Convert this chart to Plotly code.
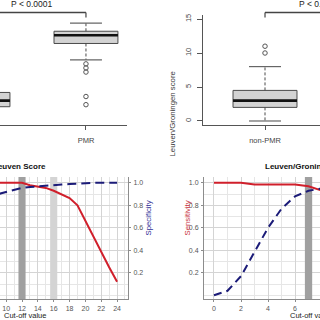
import plotly.graph_objects as go

# ---------------- data ----------------
groups = ["non-PMR", "PMR"]
group_pos = [1, 2]

# Leuven score box plot (top-left)
leuven_q1 = [3.5, 19]
leuven_median = [5, 21]
leuven_q3 = [7, 22]
leuven_whisker_low = [0, 15]
leuven_whisker_high = [12, 24]
leuven_outliers = [[], [14, 13, 12, 6, 4]]

# Leuven/Groningen score box plot (top-right)
lg_q1 = [2, 7]
lg_median = [3, 9]
lg_q3 = [4.5, 10]
lg_whisker_low = [0, 5]
lg_whisker_high = [8, 13]
lg_outliers = [[10, 11], []]

p_value_label = "P < 0.0001"

# Leuven score cut-off curves (bottom-left)
leuven_cutoff = [9, 10, 11, 12, 13, 14, 15, 16, 17, 18, 19, 20, 21, 22, 23, 24]
leuven_sensitivity = [1.0, 1.0, 1.0, 1.0, 0.978, 0.965, 0.955, 0.93, 0.90, 0.865, 0.80,
                      0.66, 0.52, 0.38, 0.25, 0.12]
leuven_specificity = [0.90, 0.92, 0.94, 0.955, 0.963, 0.97, 0.975, 0.98, 0.985, 0.99, 0.995,
                      1.0, 1.0, 1.0, 1.0, 1.0]
leuven_marked_cutoffs = [12, 16]

# Leuven/Groningen cut-off curves (bottom-right)
lg_cutoff = [0, 1, 2, 3, 4, 5, 6, 7, 8]
lg_sensitivity = [1.0, 1.0, 1.0, 0.985, 0.985, 0.985, 0.985, 0.97, 0.93]
lg_specificity = [0.0, 0.04, 0.17, 0.39, 0.60, 0.77, 0.88, 0.93, 0.95]
lg_marked_cutoff = 7

# ---------------- helpers ----------------
W = H = 320
FONT = "Liberation Sans, Arial, sans-serif"
Y_RANGE_BOTTOM = [-0.033, 1.052]


def fx(p):
    return p / W


def fy(p):
    return 1 - p / H


fig = go.Figure()

BOX_HALF = 0.296
CAP_HALF = 0.148
BOX_EDGE = "#4a4a4a"


def add_box(xa, ya, c, q1, med, q3, lo, hi, outs):
    fig.add_trace(go.Scatter(x=[c - BOX_HALF, c + BOX_HALF, c + BOX_HALF, c - BOX_HALF, c - BOX_HALF],
                             y=[q1, q1, q3, q3, q1], mode="lines", fill="toself",
                             fillcolor="#d3d3d3", line=dict(color=BOX_EDGE, width=1),
                             xaxis=xa, yaxis=ya, hoverinfo="skip"))
    fig.add_trace(go.Scatter(x=[c, c, None, c, c], y=[q3, hi, None, q1, lo], mode="lines",
                             line=dict(color=BOX_EDGE, width=1, dash="3px,2px"),
                             xaxis=xa, yaxis=ya, hoverinfo="skip"))
    fig.add_trace(go.Scatter(x=[c - CAP_HALF, c + CAP_HALF, None, c - CAP_HALF, c + CAP_HALF],
                             y=[hi, hi, None, lo, lo], mode="lines",
                             line=dict(color="#666", width=1.2),
                             xaxis=xa, yaxis=ya, hoverinfo="skip"))
    fig.add_trace(go.Scatter(x=[c - BOX_HALF, c + BOX_HALF], y=[med, med], mode="lines",
                             line=dict(color="#111", width=2.6),
                             xaxis=xa, yaxis=ya, hoverinfo="skip"))
    if outs:
        fig.add_trace(go.Scatter(x=[c] * len(outs), y=outs, mode="markers",
                                 marker=dict(symbol="circle-open", size=4.5,
                                             color="#555", line=dict(width=1)),
                                 xaxis=xa, yaxis=ya, hoverinfo="skip"))


for i, c in enumerate(group_pos):
    add_box("x", "y", c, leuven_q1[i], leuven_median[i], leuven_q3[i],
            leuven_whisker_low[i], leuven_whisker_high[i], leuven_outliers[i])
    add_box("x2", "y2", c, lg_q1[i], lg_median[i], lg_q3[i],
            lg_whisker_low[i], lg_whisker_high[i], lg_outliers[i])


# marked cut-off bands (drawn as filled traces so they sit above the grid)
BAND_L = 0.45
BAND_R = 0.27
band_colors = ["#a0a0a0", "#d4d4d4"]


def add_band(xa, ya, cut, half, col):
    y0, y1 = Y_RANGE_BOTTOM
    fig.add_trace(go.Scatter(x=[cut - half, cut + half, cut + half, cut - half, cut - half],
                             y=[y0, y0, y1, y1, y0], mode="lines", fill="toself",
                             fillcolor=col, line=dict(width=0, color=col),
                             xaxis=xa, yaxis=ya, hoverinfo="skip"))


for cut, col in zip(leuven_marked_cutoffs, band_colors):
    add_band("x3", "y3", cut, BAND_L, col)
add_band("x4", "y4", lg_marked_cutoff, BAND_R, band_colors[0])

RED = "#d01f2b"
BLUE = "#1b1b78"

fig.add_trace(go.Scatter(x=leuven_cutoff, y=leuven_sensitivity, mode="lines",
                         line=dict(color=RED, width=2), xaxis="x3", yaxis="y3"))
fig.add_trace(go.Scatter(x=leuven_cutoff, y=leuven_specificity, mode="lines",
                         line=dict(color=BLUE, width=2, dash="9px,5px"), xaxis="x3", yaxis="y3"))
fig.add_trace(go.Scatter(x=lg_cutoff, y=lg_sensitivity, mode="lines",
                         line=dict(color=RED, width=2), xaxis="x4", yaxis="y4"))
fig.add_trace(go.Scatter(x=lg_cutoff, y=lg_specificity, mode="lines",
                         line=dict(color=BLUE, width=2, dash="8px,5px"), xaxis="x4", yaxis="y4"))

# ---------------- shapes ----------------
shapes = []
# significance brackets
for xr in ["x", "x2"]:
    shapes.append(dict(type="line", xref=xr, yref="paper", x0=group_pos[0], x1=group_pos[1],
                       y0=fy(12.5), y1=fy(12.5), line=dict(color="#444", width=1.4)))
    for gp in group_pos:
        shapes.append(dict(type="line", xref=xr, yref="paper", x0=gp, x1=gp,
                           y0=fy(12.5), y1=fy(17.5), line=dict(color="#444", width=1.2)))

# ---------------- annotations ----------------
ann = []
for xr in ["x", "x2"]:
    ann.append(dict(text=p_value_label, xref=xr, yref="paper", x=sum(group_pos) / 2, y=fy(4),
                    showarrow=False, xanchor="center", yanchor="middle",
                    font=dict(size=8.5, color="#222", family=FONT)))
ann.append(dict(text="Leuven/Groningen score", xref="paper", yref="paper", x=fx(172), y=fy(70),
                textangle=-90, showarrow=False, font=dict(size=7.8, color="#333", family=FONT)))
ann.append(dict(text="<b>Leuven Score</b>", xref="paper", yref="paper", x=fx(47.5), y=fy(166),
                xanchor="right", yanchor="middle", showarrow=False,
                font=dict(size=8, color="#111", family=FONT)))
ann.append(dict(text="<b>Leuven/Groningen Score</b>", xref="paper", yref="paper", x=fx(263),
                y=fy(166), xanchor="left", yanchor="middle", showarrow=False,
                font=dict(size=8, color="#111", family=FONT)))
ann.append(dict(text="Cut-off value", xref="paper", yref="paper", x=fx(1.5), y=fy(315),
                xanchor="left", yanchor="middle", showarrow=False,
                font=dict(size=7.5, color="#222", family=FONT)))
ann.append(dict(text="Cut-off value", xref="paper", yref="paper", x=fx(288), y=fy(315),
                xanchor="left", yanchor="middle", showarrow=False,
                font=dict(size=7.5, color="#222", family=FONT)))
ann.append(dict(text="Specificity", xref="paper", yref="paper", x=fx(148), y=fy(238),
                textangle=-90, showarrow=False, font=dict(size=7.8, color="#2e2e96", family=FONT)))
ann.append(dict(text="Sensitivity", xref="paper", yref="paper", x=fx(187), y=fy(238),
                textangle=-90, showarrow=False, font=dict(size=7.8, color="#c8323c", family=FONT)))

# ---------------- axes ----------------
tick_font_box = dict(size=7.5, color="#444", family=FONT)
tick_font_gg = dict(size=7, color="#555", family=FONT)
top_dom = [fy(125), fy(15)]
bot_dom = [fy(299), fy(177)]

common_box_x = dict(showline=True, linecolor="#555", linewidth=1, ticks="outside", ticklen=4,
                    tickcolor="#555", showgrid=False, zeroline=False, tickvals=group_pos,
                    ticktext=groups, tickfont=tick_font_box, ticklabelstandoff=4)

grid_major = "#d4d4d4"
grid_minor = "#e6e6e6"


def gg_x(dom, rng, tv):
    return dict(domain=dom, range=rng, tickvals=tv, showline=True, linecolor="#8c8c8c",
                linewidth=1, ticks="outside", ticklen=2, tickcolor="#8c8c8c",
                showgrid=True, gridcolor=grid_major, gridwidth=1, zeroline=False,
                tickfont=tick_font_gg, ticklabelstandoff=1,
                minor=dict(dtick=1, tick0=0, showgrid=True, gridcolor=grid_minor, gridwidth=1))


def gg_y(rng, side, anchor):
    return dict(domain=bot_dom, range=rng, side=side, anchor=anchor,
                tickvals=[0.2, 0.4, 0.6, 0.8, 1.0], ticktext=["0.2", "0.4", "0.6", "0.8", "1.0"],
                showline=True, linecolor="#8c8c8c", linewidth=1, ticks="outside", ticklen=2,
                tickcolor="#8c8c8c", showgrid=True, gridcolor=grid_major, zeroline=False,
                tickfont=tick_font_gg, ticklabelstandoff=1,
                minor=dict(dtick=0.1, tick0=0, showgrid=True, gridcolor=grid_minor, gridwidth=1))


fig.update_layout(
    width=W, height=H, margin=dict(l=0, r=0, t=0, b=0),
    paper_bgcolor="white", plot_bgcolor="white", showlegend=False,
    xaxis=dict(domain=[0, fx(127)], range=[1.204, 2.380], anchor="y", **common_box_x),
    yaxis=dict(domain=top_dom, range=[-0.98, 25.98], anchor="x", visible=False),
    xaxis2=dict(domain=[fx(203), 1], range=[0.426, 1.509], anchor="y2", **common_box_x),
    yaxis2=dict(domain=top_dom, range=[-0.59, 15.59], anchor="x2", showline=True,
                linecolor="#555", linewidth=1, ticks="outside", ticklen=5, tickcolor="#555",
                tickvals=[0, 5, 10, 15], tickangle=-90, showgrid=False, zeroline=False,
                tickfont=tick_font_box, ticklabelstandoff=3),
    xaxis3=dict(anchor="y3", **gg_x([0, fx(128)], [9.22, 25.38], [10, 12, 14, 16, 18, 20, 22, 24])),
    yaxis3=gg_y(Y_RANGE_BOTTOM, "right", "x3"),
    xaxis4=dict(anchor="y4", **gg_x([fx(204), 1], [-0.74, 7.85], [0, 2, 4, 6, 8])),
    yaxis4=gg_y(Y_RANGE_BOTTOM, "left", "x4"),
    shapes=shapes, annotations=ann,
    font=dict(family=FONT),
)

fig.write_html("out.html")
